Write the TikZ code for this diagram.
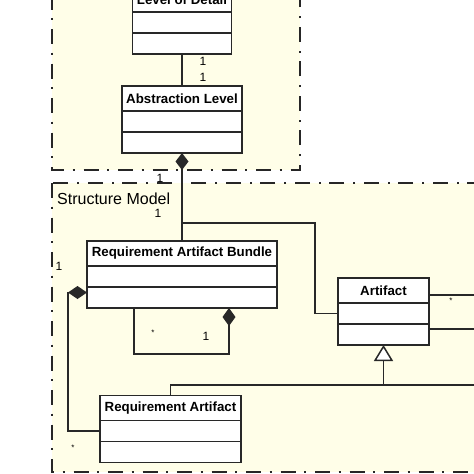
\documentclass[tikz,border=0pt]{standalone}
\usepackage{fontspec}
\setmainfont{Liberation Sans}
\usetikzlibrary{positioning,arrows.meta}

\definecolor{pkgfill}{RGB}{255,254,232}
\definecolor{umlline}{RGB}{40,40,40}

\begin{document}
\begin{tikzpicture}[x=1pt,y=-1pt,
        classhead/.style={draw=umlline, fill=white, line width=1.7pt, outer sep=0pt, inner sep=0pt, minimum height=25pt, font=\bfseries\fontsize{13.3}{13.3}\selectfont},
        classpart/.style={draw=umlline, fill=white, line width=1.7pt, outer sep=0pt, inner sep=0pt, minimum height=21pt},
        pkg/.style={draw=black!85, fill=pkgfill, line width=2.8pt, dash pattern=on 15pt off 8.5pt on 2pt off 9pt},
        assoc/.style={draw=umlline, line width=1.5pt},
        mult/.style={font=\fontsize{12}{12}\selectfont, inner sep=0pt},
        star/.style={font=\fontsize{8}{8}\selectfont, inner sep=0pt},
    ]
                \useasboundingbox (0,0) rectangle (474,474);
                \fill[white] (0,0) rectangle (474,474);

                \draw[pkg] (52,-40) rectangle (300,170);
                \draw[pkg] (52,183) rectangle (530,472);
                \node[font=\fontsize{16}{16}\selectfont, anchor=west, inner sep=0pt] (smlabel) at (57,199) {Structure Model};

                \node[classhead, minimum width=99pt] (lod) at (182,-0.5) {Level of Detail};
                \node[classpart, minimum width=99pt, below=0pt of lod] (lod1) {};
                \node[classpart, minimum width=99pt, below=0pt of lod1] (lod2) {};

                \node[classhead, minimum width=120pt] (al) at (182,98.5) {Abstraction Level};
                \node[classpart, minimum width=120pt, below=0pt of al] (al1) {};
                \node[classpart, minimum width=120pt, below=0pt of al1] (al2) {};

                \node[classhead, minimum width=190pt] (rab) at (182,253.5) {Requirement Artifact Bundle};
                \node[classpart, minimum width=190pt, below=0pt of rab] (rab1) {};
                \node[classpart, minimum width=190pt, below=0pt of rab1] (rab2) {};

                \node[classhead, minimum width=141pt] (ra) at (170.5,408) {Requirement Artifact};
                \node[classpart, minimum width=141pt, below=0pt of ra] (ra1) {};
                \node[classpart, minimum width=141pt, below=0pt of ra1] (ra2) {};

                \node[classhead, minimum width=91pt] (art) at (383.5,290.5) {Artifact};
                \node[classpart, minimum width=91pt, below=0pt of art] (art1) {};
                \node[classpart, minimum width=91pt, below=0pt of art1] (art2) {};

                \coordinate (split) at (182,223);
                \coordinate (genright) at (530,385);
                \coordinate (artout1) at (530,295);
                \coordinate (artout2) at (530,329);

                \draw[assoc] (lod2.south) -- (al.north);
                \node[mult] (lodm) at (203,61) {1};
                \node[mult] (alm) at (203,77) {1};

                \draw[assoc, {Diamond[length=17pt,width=13pt]}-] (al2.south) -- (rab.north);
                \draw[assoc] (split) -| ([xshift=-23pt]art1.west) -- (art1.west);
                \node[mult] (alrabm) at (160,178) {1};
                \node[mult] (rabalm) at (158,213) {1};

                \draw[assoc, -{Diamond[length=18pt,width=13pt]}] ([xshift=-48pt]rab2.south) -- ++(0,46) -| ([xshift=47pt]rab2.south);
                \node[star] (subm) at (153,333) {*};
                \node[mult] (superm) at (206,336) {1};

                \draw[assoc, -{Diamond[length=19pt,width=13pt]}] (ra1.west) -| ([xshift=-19pt,yshift=5pt]rab2.west) -- ([yshift=5pt]rab2.west);
                \node[mult] (rabram) at (59,266) {1};
                \node[star] (rarabm) at (73,448) {*};

                \draw[assoc] (ra.north) |- (genright);
                \draw[assoc, -{Triangle[open,length=16pt,width=19pt,fill=white]}] (art2.south |- genright) -- (art2.south);

                \draw[assoc] (art.east |- artout1) -- (artout1);
                \draw[assoc] (art.east |- artout2) -- (artout2);
                \node[star] (artm) at (451,301) {*};
            \end{tikzpicture}
\end{document}
